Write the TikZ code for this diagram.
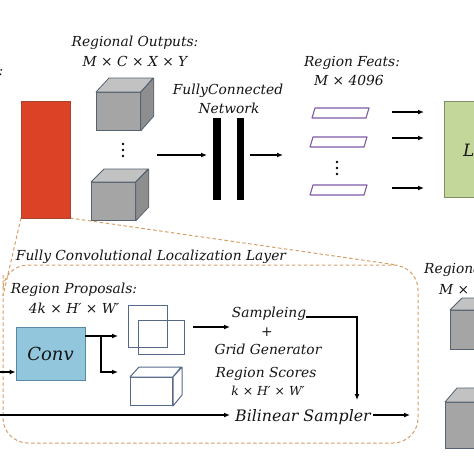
\documentclass[tikz,border=0pt]{standalone}
\usepackage{fontspec}
\setmainfont{DejaVu Serif}
\usetikzlibrary{arrows.meta,shapes.geometric}
\definecolor{redc}{HTML}{DC4226}
\definecolor{redb}{HTML}{A8442E}
\definecolor{cubeF}{HTML}{A5A5A5}
\definecolor{cubeT}{HTML}{C2C2C2}
\definecolor{cubeS}{HTML}{8E8E8E}
\definecolor{cubeB}{HTML}{556270}
\definecolor{purp}{HTML}{7E5CA6}
\definecolor{greenc}{HTML}{C4D79B}
\definecolor{greenb}{HTML}{7F8F66}
\definecolor{convc}{HTML}{92C6DC}
\definecolor{convb}{HTML}{5B87A6}
\definecolor{boxb}{HTML}{56698A}
\definecolor{dashc}{HTML}{D4A068}
\definecolor{txt}{HTML}{151515}
\tikzset{
  lbl/.style={font=\itshape\fontsize{13.8}{15}\selectfont, text=txt, inner sep=0pt},
  arr/.style={draw=black, line width=1.2pt, -{Latex[length=6pt,width=5pt]}},
  ln/.style={draw=black, line width=1.2pt},
  cfront/.style={draw=cubeB, fill=cubeF, line width=0.8pt, inner sep=0pt, rectangle},
  ctop/.style={draw=cubeB, fill=cubeT, line width=0.8pt, line join=round},
  cside/.style={draw=cubeB, fill=cubeS, line width=0.8pt, line join=round},
  wfront/.style={draw=boxb, fill=white, line width=1pt, inner sep=0pt, rectangle},
  wtop/.style={draw=boxb, fill=white, line width=1pt, line join=round},
  wside/.style={draw=boxb, fill=white, line width=1pt, line join=round},
  featline/.style={draw=purp, line width=1.1pt, line join=round},
  bar/.style={fill=black, inner sep=0pt, rectangle},
  dashline/.style={draw=dashc, line width=1pt, dash pattern=on 3.5pt off 2.5pt},
  dotc/.style={fill=black, circle, inner sep=0pt, minimum size=2.8pt},
  sq/.style={draw=boxb, line width=1pt, inner sep=0pt, rectangle},
}
\newcommand{\cubeat}[8]{%
  \node[#8front, minimum width=#4pt, minimum height=#5pt, anchor=north west] (#1) at (#2,#3) {};
  \draw[#8top] (#1.north west) -- ++(#6,-#7) -- ++(#4,0) -- (#1.north east) -- cycle;
  \draw[#8side] (#1.north east) -- ++(#6,-#7) -- ++(0,#5) -- (#1.south east) -- cycle;
}
% parallelogram: name, left x (bottom), top y
\newcommand{\featbox}[3]{%
  \coordinate (#1) at (#2+27,#3+5);
  \draw[featline] (#2,#3+10) -- (#2+3,#3) -- (#2+57,#3) -- (#2+54,#3+10) -- cycle;
}
\begin{document}
\begin{tikzpicture}[x=1pt,y=-1pt]
\useasboundingbox (0,0) rectangle (474,474);
\clip (0,0) rectangle (474,474);
\fill[white] (0,0) rectangle (474,474);

% ---- dashed callout ----
\draw[dashline, rounded corners=25pt] (3,300) -- (3,265) -- (418,265) -- (418,443) -- (3,443) -- cycle;
\draw[dashline] (21,218) -- (3,296);
\draw[dashline] (70,218) -- (397,265);

% ---- red feature map ----
\node[draw=redb, fill=redc, line width=0.6pt, minimum width=49pt, minimum height=117pt, inner sep=0pt] (red) at (45.5,159.5) {};

% ---- regional outputs ----
\node[lbl] (ro1) at (135,43) {Regional Outputs:};
\node[lbl] (ro2) at (135,61) {M × C × X × Y};
\cubeat{cubeA}{96}{92}{44}{38}{13}{14}{c}
\cubeat{cubeB}{91}{182}{44}{38}{13}{13}{c}
\node[dotc] (d1) at (123,144) {};
\node[dotc] (d2) at (123,150) {};
\node[dotc] (d3) at (123,156) {};

\node[bar, minimum width=8pt, minimum height=82pt] (bar1) at (217,159) {};
\node[bar, minimum width=7pt, minimum height=82pt] (bar2) at (240.5,159) {};
\coordinate (a1s) at (157,155);
\coordinate (a1e) at (207,155);
\draw[arr] (a1s) -- (a1e);
\node[lbl] (fc1) at (228,91) {FullyConnected};
\node[lbl] (fc2) at (229,108) {Network};

% ---- region feats ----
\node[lbl] (rf1) at (352,63) {Region Feats:};
\node[lbl] (rf2) at (349,80) {M × 4096};
\featbox{p1}{312}{108}
\featbox{p2}{310}{137}
\featbox{p3}{310}{185}
\node[dotc] (e1) at (337,162) {};
\node[dotc] (e2) at (337,168) {};
\node[dotc] (e3) at (337,174) {};
\coordinate (b2s) at (250,155);
\coordinate (b2e) at (283,155);
\draw[arr] (b2s) -- (b2e);

% ---- green box ----
\node[draw=greenb, fill=greenc, line width=0.7pt, minimum width=40pt, minimum height=96pt, inner sep=0pt, anchor=north west] (green) at (444,101) {};
\node[font=\itshape\fontsize{17}{19}\selectfont, text=txt, anchor=west, inner sep=0pt] (Ltxt) at (463,150) {L};
\coordinate (g1) at (392,112);
\coordinate (g2) at (392,138);
\coordinate (g3) at (392,188);
\draw[arr] (g1) -- ++(32,0);
\draw[arr] (g2) -- ++(32,0);
\draw[arr] (g3) -- ++(32,0);

% ---- left colon ----
\node[lbl, anchor=east] (colon) at (3.5,73) {:};

% ---- localization layer ----
\node[lbl] (fcl) at (151,257) {Fully Convolutional Localization Layer};
\node[lbl] (rp1) at (74,290) {Region Proposals:};
\node[lbl] (rp2) at (74,308) {4k × H′ × W′};
\node[draw=convb, fill=convc, line width=0.8pt, minimum width=69pt, minimum height=53pt, inner sep=0pt, font=\itshape\fontsize{18}{20}\selectfont, text=txt] (conv) at (50.5,353.5) {Conv};
\coordinate (cin) at (0,372);
\draw[arr] (cin) -- (conv.west |- cin);
\coordinate (br) at (101,336);
\coordinate (brA) at (118,336);
\coordinate (brB) at (118,372);
\draw[ln] (conv.east |- br) -- (br);
\draw[arr] (br) -- (brA);
\draw[arr] (br) |- (brB);

\node[sq, minimum width=39pt, minimum height=42pt, anchor=north west] (s1) at (128,305) {};
\node[sq, minimum width=46pt, minimum height=34pt, anchor=north west] (s2) at (138,320) {};
\cubeat{wcube}{130}{377}{42}{28}{9}{10}{w}

\coordinate (sgs) at (193,327);
\coordinate (sge) at (230,327);
\draw[arr] (sgs) -- (sge);
\node[lbl] (samp) at (269,314) {Sampleing};
\node[lbl] (plus) at (267,332) {+};
\node[lbl] (grid) at (268,349) {Grid Generator};
\node[lbl] (rs1) at (266,374) {Region Scores};
\node[lbl, font=\itshape\fontsize{12.4}{14}\selectfont] (rs2) at (268,391) {k × H′ × W′};
\node[lbl, font=\itshape\fontsize{15.8}{17}\selectfont] (bil) at (303,417) {Bilinear Sampler};
\coordinate (sk1) at (357,317);
\coordinate (sk2) at (357,400);
\draw[arr] (samp.east |- sk1) -- (sk1) -- (sk2);
\coordinate (lin) at (0,415);
\coordinate (lout) at (230,415);
\draw[arr] (lin) -- (lout);
\coordinate (bo1) at (373,415);
\coordinate (bo2) at (410,415);
\draw[arr] (bo1) -- (bo2);

% ---- right side ----
\node[lbl, anchor=west] (ro3) at (424,270) {Regional Outputs:};
\node[lbl, anchor=west] (ro4) at (439,289) {M × C × X × Y};
\cubeat{cubeC}{450}{310}{45}{39}{12}{12}{c}
\cubeat{cubeD}{445}{402}{45}{46}{12}{14}{c}
\end{tikzpicture}
\end{document}
